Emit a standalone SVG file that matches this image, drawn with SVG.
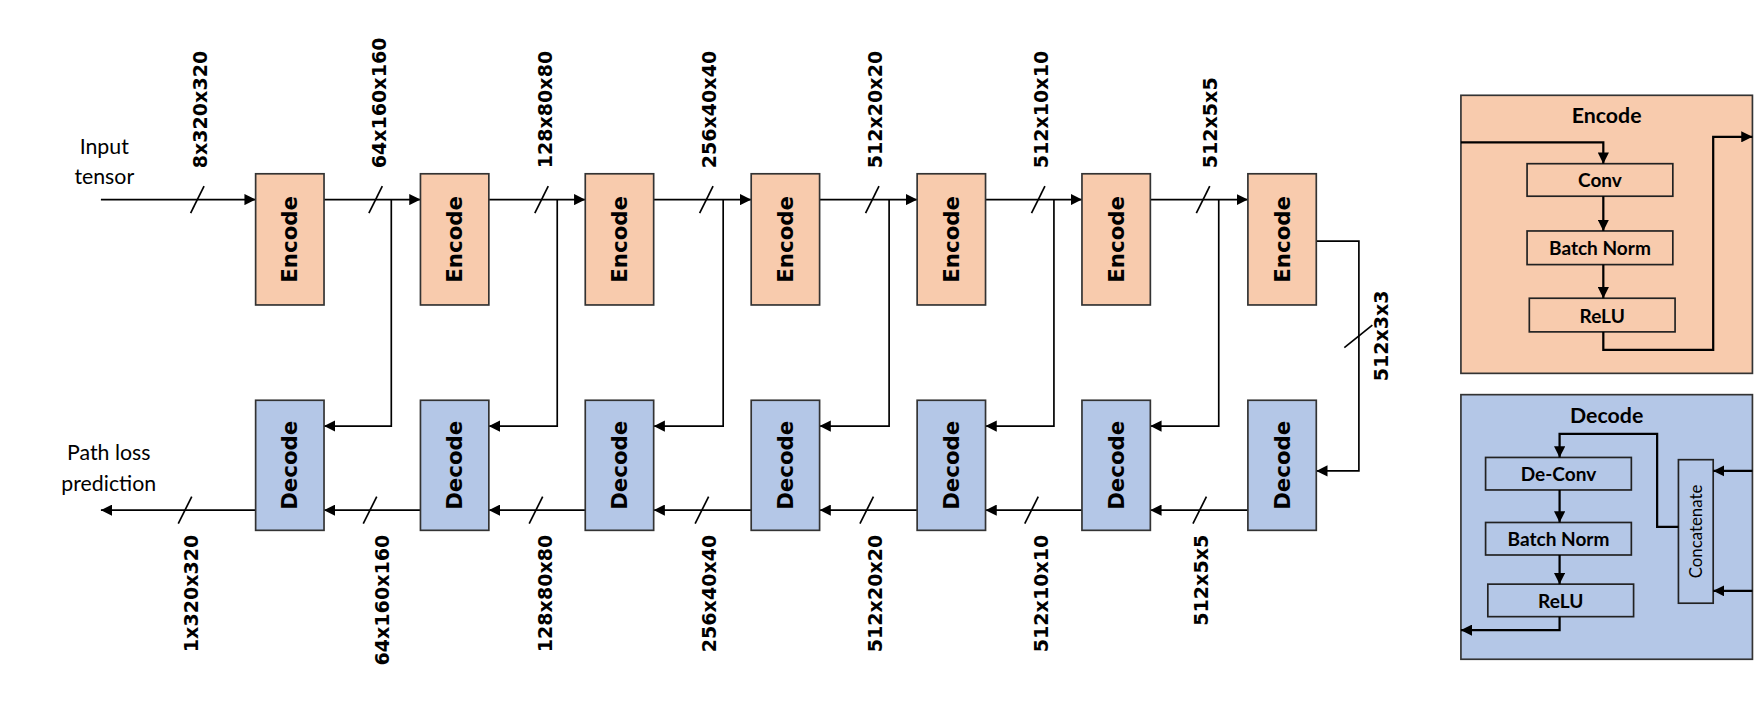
<svg xmlns="http://www.w3.org/2000/svg" width="1758" height="710" viewBox="0 0 1758 710">
<defs>
<marker id="ah" viewBox="0 0 10 10" refX="10" refY="5" markerWidth="10" markerHeight="10" markerUnits="userSpaceOnUse" orient="auto"><path d="M0,0 L10,5 L0,10 z" fill="#000"/></marker>
<style>
.enc{fill:#f8cbad;stroke:#333;stroke-width:1.5}
.dec{fill:#b4c7e7;stroke:#333;stroke-width:1.5}
.box{fill:none;stroke:#222;stroke-width:1.5}
.bt{font-family:"DejaVu Sans",sans-serif;font-weight:bold;font-size:19px;text-anchor:middle;dominant-baseline:central}
.dim{font-family:"DejaVu Sans",sans-serif;font-weight:bold;font-size:17px}
.dimb{font-family:"DejaVu Sans",sans-serif;font-weight:bold;font-size:17px;text-anchor:end}
.lab{font-family:Lato,"Liberation Sans",sans-serif;font-size:19px;text-anchor:middle}
.pt{font-family:Lato,"Liberation Sans",sans-serif;font-weight:bold;font-size:17px;text-anchor:middle;dominant-baseline:central}
.ttl{font-size:19px}
.ln{fill:none;stroke:#000;stroke-width:1.5}
.ln2{fill:none;stroke:#000;stroke-width:2}
</style>
</defs>
<rect width="1758" height="710" fill="#fff"/>
<g transform="scale(1.1212)">
<g id="connectors">
<path class="ln" d="M90,178 H228" marker-end="url(#ah)"/>
<path class="ln" d="M289,178 H375" marker-end="url(#ah)"/>
<path class="ln" d="M436,178 H522" marker-end="url(#ah)"/>
<path class="ln" d="M583,178 H670" marker-end="url(#ah)"/>
<path class="ln" d="M731,178 H818" marker-end="url(#ah)"/>
<path class="ln" d="M879,178 H965" marker-end="url(#ah)"/>
<path class="ln" d="M1026,178 H1113" marker-end="url(#ah)"/>
<path class="ln" d="M349,178 V380 H289" marker-end="url(#ah)"/>
<path class="ln" d="M497,178 V380 H436" marker-end="url(#ah)"/>
<path class="ln" d="M645,178 V380 H583" marker-end="url(#ah)"/>
<path class="ln" d="M793,178 V380 H731" marker-end="url(#ah)"/>
<path class="ln" d="M940,178 V380 H879" marker-end="url(#ah)"/>
<path class="ln" d="M1087,178 V380 H1026" marker-end="url(#ah)"/>
<path class="ln" d="M1174,215 H1212 V420 H1174" marker-end="url(#ah)"/>
<path class="ln" d="M228,455 H90" marker-end="url(#ah)"/>
<path class="ln" d="M375,455 H289" marker-end="url(#ah)"/>
<path class="ln" d="M522,455 H436" marker-end="url(#ah)"/>
<path class="ln" d="M670,455 H583" marker-end="url(#ah)"/>
<path class="ln" d="M818,455 H731" marker-end="url(#ah)"/>
<path class="ln" d="M965,455 H879" marker-end="url(#ah)"/>
<path class="ln" d="M1113,455 H1026" marker-end="url(#ah)"/>
<g class="ln">
<path d="M170,190 L182,166"/><path d="M329,190 L341,166"/><path d="M477,190 L489,166"/><path d="M624,190 L636,166"/><path d="M772,190 L784,166"/><path d="M920,190 L932,166"/><path d="M1067,190 L1079,166"/>
<path d="M159,467 L171,443"/><path d="M324,467 L336,443"/><path d="M472,467 L484,443"/><path d="M620,467 L632,443"/><path d="M767,467 L779,443"/><path d="M914,467 L926,443"/><path d="M1064,467 L1076,443"/>
<path d="M1199,310 L1224,290"/>
</g>
</g>
<g id="labels">
<text class="lab" x="93" y="137">Input</text><text class="lab" x="93" y="164">tensor</text>
<text class="lab" x="97" y="410">Path loss</text><text class="lab" x="97" y="438">prediction</text>
<text class="dim" transform="translate(185,150) rotate(-90)">8x320x320</text>
<text class="dim" transform="translate(344,150) rotate(-90)">64x160x160</text>
<text class="dim" transform="translate(492,150) rotate(-90)">128x80x80</text>
<text class="dim" transform="translate(639,150) rotate(-90)">256x40x40</text>
<text class="dim" transform="translate(787,150) rotate(-90)">512x20x20</text>
<text class="dim" transform="translate(935,150) rotate(-90)">512x10x10</text>
<text class="dim" transform="translate(1085,150) rotate(-90)">512x5x5</text>
<text class="dim" transform="translate(1238,340) rotate(-90)">512x3x3</text>
<text class="dimb" transform="translate(177,477) rotate(-90)">1x320x320</text>
<text class="dimb" transform="translate(347,477) rotate(-90)">64x160x160</text>
<text class="dimb" transform="translate(492,477) rotate(-90)">128x80x80</text>
<text class="dimb" transform="translate(639,477) rotate(-90)">256x40x40</text>
<text class="dimb" transform="translate(787,477) rotate(-90)">512x20x20</text>
<text class="dimb" transform="translate(935,477) rotate(-90)">512x10x10</text>
<text class="dimb" transform="translate(1077,477) rotate(-90)">512x5x5</text>
</g>
<g id="enc1"><rect class="enc" x="228" y="155" width="61" height="117"/><text class="bt" transform="translate(258.5,213.5) rotate(-90)">Encode</text></g>
<g id="enc2"><rect class="enc" x="375" y="155" width="61" height="117"/><text class="bt" transform="translate(405.5,213.5) rotate(-90)">Encode</text></g>
<g id="enc3"><rect class="enc" x="522" y="155" width="61" height="117"/><text class="bt" transform="translate(552.5,213.5) rotate(-90)">Encode</text></g>
<g id="enc4"><rect class="enc" x="670" y="155" width="61" height="117"/><text class="bt" transform="translate(700.5,213.5) rotate(-90)">Encode</text></g>
<g id="enc5"><rect class="enc" x="818" y="155" width="61" height="117"/><text class="bt" transform="translate(848.5,213.5) rotate(-90)">Encode</text></g>
<g id="enc6"><rect class="enc" x="965" y="155" width="61" height="117"/><text class="bt" transform="translate(995.5,213.5) rotate(-90)">Encode</text></g>
<g id="enc7"><rect class="enc" x="1113" y="155" width="61" height="117"/><text class="bt" transform="translate(1143.5,213.5) rotate(-90)">Encode</text></g>
<g id="dec1"><rect class="dec" x="228" y="357" width="61" height="116"/><text class="bt" transform="translate(258.5,415) rotate(-90)">Decode</text></g>
<g id="dec2"><rect class="dec" x="375" y="357" width="61" height="116"/><text class="bt" transform="translate(405.5,415) rotate(-90)">Decode</text></g>
<g id="dec3"><rect class="dec" x="522" y="357" width="61" height="116"/><text class="bt" transform="translate(552.5,415) rotate(-90)">Decode</text></g>
<g id="dec4"><rect class="dec" x="670" y="357" width="61" height="116"/><text class="bt" transform="translate(700.5,415) rotate(-90)">Decode</text></g>
<g id="dec5"><rect class="dec" x="818" y="357" width="61" height="116"/><text class="bt" transform="translate(848.5,415) rotate(-90)">Decode</text></g>
<g id="dec6"><rect class="dec" x="965" y="357" width="61" height="116"/><text class="bt" transform="translate(995.5,415) rotate(-90)">Decode</text></g>
<g id="dec7"><rect class="dec" x="1113" y="357" width="61" height="116"/><text class="bt" transform="translate(1143.5,415) rotate(-90)">Decode</text></g>
<g id="encode-panel">
<rect class="enc" x="1303" y="85" width="260" height="248"/>
<text class="pt ttl" x="1433" y="103">Encode</text>
<rect class="box" x="1362" y="146" width="130" height="29"/><text class="pt" x="1427" y="160.5">Conv</text>
<rect class="box" x="1362" y="206" width="130" height="30"/><text class="pt" x="1427" y="221">Batch Norm</text>
<rect class="box" x="1364" y="266" width="130" height="30"/><text class="pt" x="1429" y="281">ReLU</text>
<path class="ln2" d="M1303,127 H1430 V146" marker-end="url(#ah)"/>
<path class="ln2" d="M1430,175 V206" marker-end="url(#ah)"/>
<path class="ln2" d="M1430,236 V266" marker-end="url(#ah)"/>
<path class="ln2" d="M1430,296 V312 H1528 V122 H1563" marker-end="url(#ah)"/>
</g>
<g id="decode-panel">
<rect class="dec" x="1303" y="352" width="260" height="236"/>
<text class="pt ttl" x="1433" y="370">Decode</text>
<rect class="box" x="1325" y="408" width="130" height="29"/><text class="pt" x="1390" y="422.5">De-Conv</text>
<rect class="box" x="1325" y="466" width="130" height="29"/><text class="pt" x="1390" y="480.5">Batch Norm</text>
<rect class="box" x="1327" y="521" width="130" height="29"/><text class="pt" x="1392" y="535.5">ReLU</text>
<rect class="box" x="1497" y="410" width="31" height="128"/><text class="pt" style="font-size:15px;font-weight:normal" transform="translate(1512.5,474) rotate(-90)">Concatenate</text>
<path class="ln2" d="M1497,470 H1478 V387 H1391 V408" marker-end="url(#ah)"/>
<path class="ln2" d="M1391,437 V466" marker-end="url(#ah)"/>
<path class="ln2" d="M1391,495 V521" marker-end="url(#ah)"/>
<path class="ln2" d="M1391,550 V562 H1303" marker-end="url(#ah)"/>
<path class="ln2" d="M1563,420 H1528" marker-end="url(#ah)"/>
<path class="ln2" d="M1563,527 H1528" marker-end="url(#ah)"/>
</g>
</g>
</svg>
